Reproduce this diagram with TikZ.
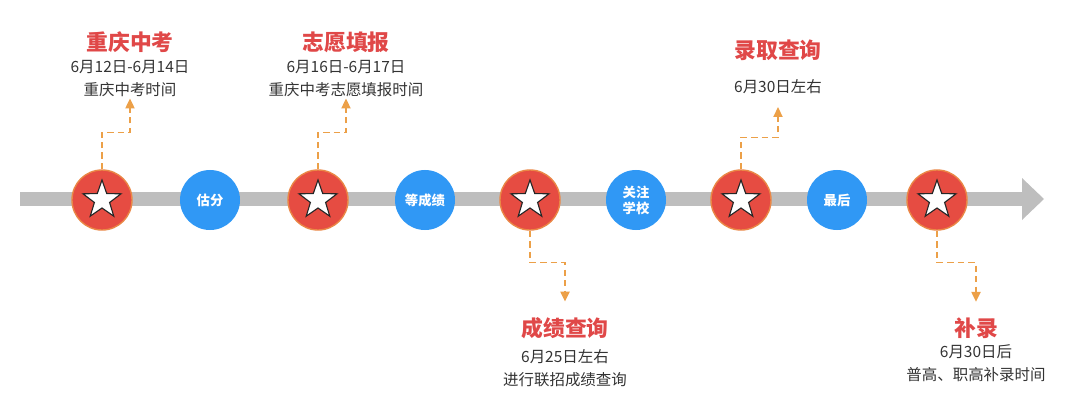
\documentclass[tikz,border=0pt]{standalone}
\usepackage{fontspec}
\setmainfont{Noto Sans CJK SC}
\usepackage{xcolor}
\definecolor{tlred}{RGB}{230,76,66}
\definecolor{tltitle}{RGB}{224,72,72}
\definecolor{tlorange}{RGB}{236,160,72}
\definecolor{tlblue}{RGB}{48,152,245}
\definecolor{tlgray}{RGB}{190,190,190}
\definecolor{tltext}{RGB}{51,51,51}
\usepackage{tikz}
\usetikzlibrary{arrows.meta, shapes.geometric}

\tikzset{
  redmark/.style={circle, fill=tlred, draw=tlorange!70!tlred, line width=1pt,
    minimum size=1.5cm, inner sep=0pt},
  bluemark/.style={circle, fill=tlblue, minimum size=1.5cm, inner sep=0pt,
    text=white, font=\fontsize{9.5}{11.5}\selectfont\bfseries, align=center},
  starmark/.style={star, star points=5, star point ratio=2.5, fill=white,
    draw=black!85, line width=0.8pt, minimum size=1cm, inner sep=0pt},
  headline/.style={font=\fontsize{15.5}{18}\selectfont\bfseries, text=tltitle, inner sep=1pt},
  detail/.style={font=\fontsize{11}{16.5}\selectfont, text=tltext, align=center, inner sep=1pt},
  leader/.style={tlorange, line width=1pt, dash pattern=on 4.5pt off 3pt,
    -{Triangle[width=6.5pt,length=7pt]}},
}

\begin{document}
\begin{tikzpicture}[x=0.025cm, y=-0.025cm]
  \useasboundingbox (0,0) rectangle (1080,414);

  % Time line
  \fill[tlgray] (20,192) rectangle (1022,206);
  \fill[tlgray] (1022,178) -- (1044,199) -- (1022,220) -- cycle;

  % Milestones on the line
  \node[redmark] (s1) at (102,200) {};
  \node[starmark] (st1) at (s1) {};
  \node[bluemark] (b1) at (210,200) {估分};
  \node[redmark] (s2) at (318,200) {};
  \node[starmark] (st2) at (s2) {};
  \node[bluemark] (b2) at (425,200) {等成绩};
  \node[redmark] (s3) at (530,200) {};
  \node[starmark] (st3) at (s3) {};
  \node[bluemark] (b3) at (636,200) {关注\\学校};
  \node[redmark] (s4) at (741,200) {};
  \node[starmark] (st4) at (s4) {};
  \node[bluemark] (b4) at (837,200) {最后};
  \node[redmark] (s5) at (937,200) {};
  \node[starmark] (st5) at (s5) {};

  % Labels above
  \node[headline] (h1) at (130,42) {重庆中考};
  \node[detail] (d1) at (130,78.5) {6月12日-6月14日\\重庆中考时间};
  \node[headline] (h2) at (346,42) {志愿填报};
  \node[detail] (d2) at (346,78.5) {6月16日-6月17日\\重庆中考志愿填报时间};
  \node[headline] (h4) at (778,50) {录取查询};
  \node[detail] (d4) at (778,87) {6月30日左右};

  % Labels below
  \node[headline] (h3) at (565,328) {成绩查询};
  \node[detail] (d3) at (565,368) {6月25日左右\\进行联招成绩查询};
  \node[headline] (h5) at (976,328) {补录};
  \node[detail] (d5) at (976,363.5) {6月30日后\\普高、职高补录时间};

  % Leaders
  \draw[leader] (s1.north) -- ++(0,-37) -| (d1.south);
  \draw[leader] (s2.north) -- ++(0,-37) -| (d2.south);
  \draw[leader, shorten >=8pt] (s4.north) -- ++(0,-32) -| (d4.south);
  \draw[leader, shorten >=10pt] (s3.south) -- ++(0,32) -| (h3.north);
  \draw[leader, shorten >=10pt] (s5.south) -- ++(0,32) -| (h5.north);
\end{tikzpicture}
\end{document}
